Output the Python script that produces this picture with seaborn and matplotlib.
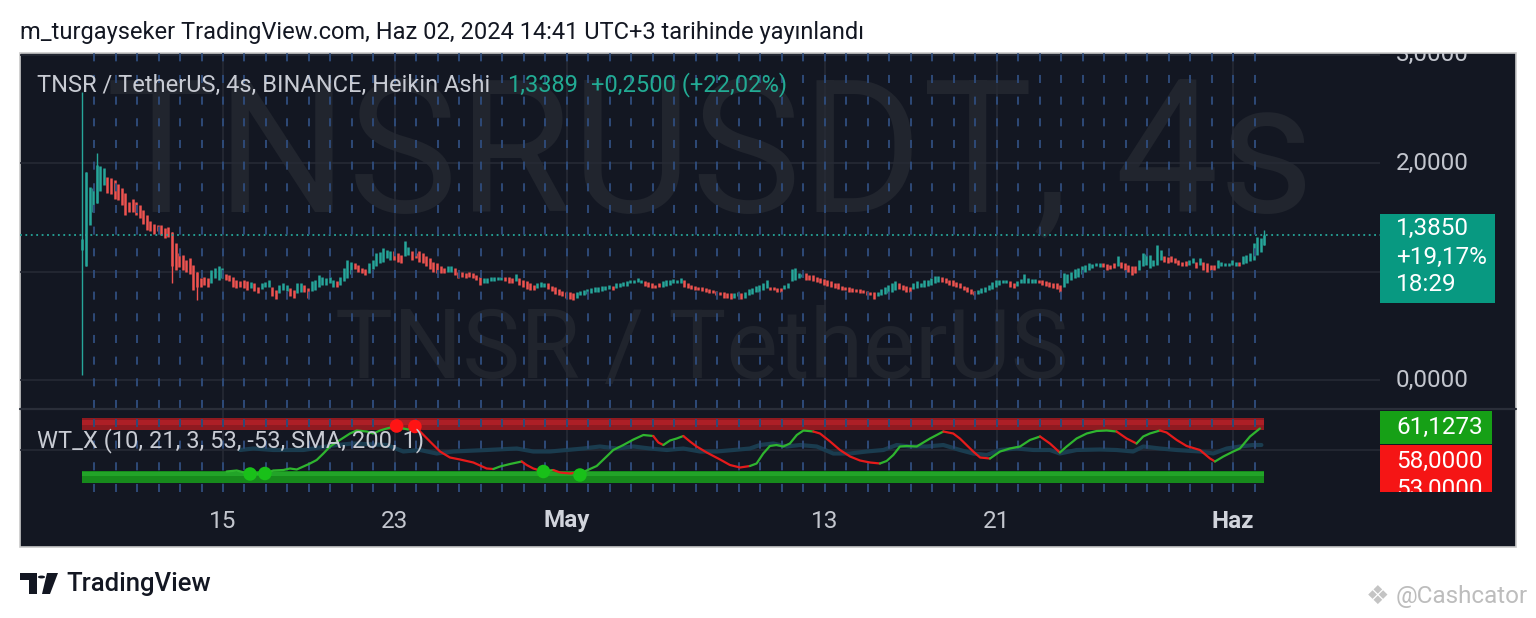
import numpy as np
import pandas as pd
import seaborn as sns
import matplotlib.pyplot as plt
import matplotlib.transforms as mtrans
from matplotlib.patches import Rectangle, Circle, Polygon
from matplotlib.lines import Line2D

# ---- data ----
# Heikin Ashi bodies, 4h candles from 2024-04-08 11:00 (UTC+3)
ha_open = [1.20, 1.05, 1.43, 1.55, 1.63, 1.74, 1.80, 1.87, 1.86, 1.84, 1.81, 1.77, 1.72, 1.64, 1.67, 1.64,
           1.61, 1.57, 1.52, 1.47, 1.44, 1.43, 1.43, 1.40, 1.41, 1.36, 1.26, 1.17, 1.15, 1.11, 1.12, 1.06,
           1.00, 0.94, 0.95, 0.94, 0.89, 0.94, 0.92, 0.94, 0.98, 0.97, 0.95, 0.92, 0.91, 0.92, 0.91, 0.85,
           0.89, 0.86, 0.84, 0.86, 0.86, 0.86, 0.83, 0.80, 0.83, 0.82, 0.85, 0.83, 0.80, 0.81, 0.88, 0.85,
           0.82, 0.83, 0.86, 0.88, 0.88, 0.89, 0.86, 0.91, 0.88, 0.91, 0.94, 0.98, 1.08, 1.06, 1.03, 1.02,
           0.99, 1.02, 1.05, 1.08, 1.09, 1.12, 1.11, 1.19, 1.17, 1.15, 1.14, 1.15, 1.19, 1.17, 1.19, 1.17,
           1.14, 1.12, 1.09, 1.08, 1.05, 1.03, 1.00, 1.00, 1.03, 1.00, 1.00, 0.99, 1.00, 0.99, 0.97, 0.95,
           0.89, 0.89, 0.91, 0.91, 0.92, 0.92, 0.95, 0.95, 0.94, 0.91, 0.94, 0.92, 0.91, 0.89, 0.88, 0.85,
           0.86, 0.86, 0.89, 0.87, 0.86, 0.84, 0.82, 0.81, 0.81, 0.80, 0.76, 0.78, 0.78, 0.79, 0.80, 0.81,
           0.81, 0.82, 0.83, 0.84, 0.87, 0.85, 0.86, 0.87, 0.87, 0.89, 0.89, 0.90, 0.89, 0.91, 0.90, 0.89,
           0.88, 0.89, 0.86, 0.87, 0.88, 0.89, 0.89, 0.89, 0.92, 0.89, 0.88, 0.87, 0.86, 0.86, 0.85, 0.84,
           0.83, 0.82, 0.81, 0.81, 0.80, 0.80, 0.76, 0.77, 0.80, 0.76, 0.78, 0.79, 0.81, 0.81, 0.83, 0.85,
           0.86, 0.86, 0.85, 0.85, 0.84, 0.85, 0.91, 0.92, 0.94, 0.95, 0.99, 0.97, 0.97, 0.95, 0.94, 0.93,
           0.92, 0.91, 0.89, 0.89, 0.87, 0.86, 0.86, 0.85, 0.84, 0.84, 0.83, 0.82, 0.81, 0.81, 0.77, 0.78,
           0.79, 0.80, 0.81, 0.83, 0.89, 0.88, 0.87, 0.86, 0.84, 0.85, 0.86, 0.86, 0.87, 0.88, 0.89, 0.90,
           0.95, 0.94, 0.92, 0.92, 0.90, 0.89, 0.87, 0.86, 0.84, 0.82, 0.79, 0.80, 0.81, 0.83, 0.84, 0.86,
           0.88, 0.89, 0.89, 0.91, 0.89, 0.87, 0.89, 0.89, 0.89, 0.89, 0.89, 0.92, 0.92, 0.91, 0.90, 0.89,
           0.89, 0.88, 0.86, 0.89, 0.92, 0.94, 0.95, 0.98, 1.00, 1.01, 1.03, 1.05, 1.04, 1.08, 1.07, 1.06,
           1.08, 1.05, 1.09, 1.08, 1.06, 1.05, 1.05, 1.01, 1.05, 1.06, 1.03, 1.05, 1.06, 1.11, 1.14, 1.13,
           1.14, 1.12, 1.11, 1.09, 1.10, 1.06, 1.08, 1.09, 1.06, 1.09, 1.08, 1.06, 1.06, 1.03, 1.05, 1.05,
           1.05, 1.06, 1.05, 1.09, 1.07, 1.08, 1.10, 1.11, 1.15, 1.18, 1.24]
ha_close = [1.30, 1.92, 1.78, 1.77, 1.98, 1.97, 1.95, 1.72, 1.71, 1.67, 1.66, 1.61, 1.52, 1.55, 1.55, 1.52,
            1.49, 1.44, 1.38, 1.37, 1.35, 1.37, 1.34, 1.31, 1.32, 1.05, 1.01, 1.04, 1.01, 1.00, 0.98, 0.83,
            0.86, 0.86, 0.88, 0.86, 1.01, 1.03, 1.05, 1.03, 0.92, 0.91, 0.86, 0.85, 0.86, 0.85, 0.83, 0.90,
            0.82, 0.80, 0.89, 0.90, 0.92, 0.77, 0.75, 0.88, 0.89, 0.88, 0.77, 0.76, 0.89, 0.89, 0.81, 0.76,
            0.91, 0.92, 0.97, 0.95, 0.94, 0.95, 0.92, 0.86, 0.95, 1.03, 1.11, 1.09, 1.02, 1.00, 0.99, 0.97,
            1.08, 1.11, 1.17, 1.18, 1.22, 1.20, 1.19, 1.11, 1.09, 1.08, 1.28, 1.23, 1.11, 1.12, 1.09, 1.08,
            1.05, 1.02, 1.00, 0.99, 0.99, 0.99, 1.05, 1.05, 0.97, 0.94, 0.95, 0.94, 0.95, 0.94, 0.92, 0.88,
            0.94, 0.94, 0.95, 0.95, 0.95, 0.95, 0.91, 0.89, 0.89, 0.98, 0.88, 0.86, 0.84, 0.83, 0.83, 0.89,
            0.90, 0.89, 0.84, 0.82, 0.79, 0.78, 0.77, 0.76, 0.75, 0.74, 0.81, 0.82, 0.83, 0.84, 0.85, 0.86,
            0.86, 0.87, 0.87, 0.88, 0.83, 0.89, 0.89, 0.90, 0.91, 0.92, 0.92, 0.94, 0.92, 0.87, 0.86, 0.85,
            0.85, 0.86, 0.91, 0.92, 0.92, 0.93, 0.92, 0.94, 0.86, 0.85, 0.84, 0.83, 0.83, 0.82, 0.81, 0.80,
            0.80, 0.78, 0.78, 0.76, 0.76, 0.75, 0.80, 0.81, 0.75, 0.81, 0.84, 0.85, 0.87, 0.88, 0.89, 0.92,
            0.83, 0.83, 0.81, 0.81, 0.88, 0.89, 1.02, 1.03, 0.99, 0.98, 0.92, 0.92, 0.91, 0.90, 0.89, 0.88,
            0.87, 0.86, 0.85, 0.84, 0.83, 0.83, 0.81, 0.81, 0.81, 0.80, 0.80, 0.78, 0.78, 0.75, 0.81, 0.84,
            0.86, 0.88, 0.89, 0.91, 0.84, 0.83, 0.81, 0.81, 0.89, 0.91, 0.89, 0.92, 0.92, 0.94, 0.96, 0.96,
            0.90, 0.89, 0.88, 0.87, 0.86, 0.85, 0.83, 0.81, 0.79, 0.78, 0.83, 0.85, 0.86, 0.88, 0.90, 0.92,
            0.92, 0.92, 0.92, 0.86, 0.85, 0.91, 0.93, 0.98, 0.94, 0.93, 0.93, 0.89, 0.88, 0.87, 0.86, 0.85,
            0.84, 0.81, 0.99, 0.98, 1.00, 1.02, 1.03, 1.05, 1.06, 1.08, 1.07, 1.08, 1.08, 1.04, 1.01, 1.02,
            1.03, 1.14, 1.03, 1.01, 1.00, 0.97, 0.99, 1.11, 1.17, 1.16, 1.15, 1.11, 1.24, 1.20, 1.09, 1.08,
            1.09, 1.08, 1.06, 1.05, 1.05, 1.11, 1.12, 1.03, 1.12, 1.01, 1.00, 1.01, 1.01, 1.11, 1.09, 1.08,
            1.08, 1.11, 1.09, 1.05, 1.14, 1.15, 1.17, 1.26, 1.32, 1.31, 1.3389]
# candles with visible wicks
wick_idx = [0, 1, 4, 25, 32, 330]
wick_hi = [2.65, 1.92, 2.09, 1.36, 1.00, 1.385]
wick_lo = [0.05, 1.05, 1.63, 0.89, 0.74, 1.24]
last_close = 1.3389

# WT_X oscillator, days after 2024-04-15 00:00
wt_day = [0.17, 0.64, 1.26, 1.95, 2.34, 2.81, 3.12, 3.43, 3.74, 4.05, 4.36, 4.67, 4.98, 5.44, 5.91, 6.22,
          6.69, 6.99, 7.31, 7.62, 8.08, 8.39, 8.62, 8.93, 9.17, 9.63, 10.10, 10.56, 11.03, 11.65, 12.27, 12.58,
          12.89, 13.36, 13.90, 14.13, 14.44, 14.91, 15.37, 15.68, 16.15, 16.53, 16.61, 16.92, 17.39, 17.85, 18.16, 18.63,
          19.10, 19.56, 20.02, 20.26, 20.49, 20.80, 21.11, 21.42, 21.73, 22.04, 22.51, 23.13, 23.59, 24.06, 24.52, 24.83,
          25.14, 25.45, 25.76, 26.07, 26.38, 26.70, 27.01, 27.47, 27.78, 28.25, 28.71, 29.18, 29.64, 30.11, 30.57, 30.88,
          31.19, 31.50, 31.81, 32.28, 32.59, 32.90, 33.21, 33.52, 33.98, 34.29, 34.60, 34.91, 35.23, 35.69, 36.16, 36.62,
          37.09, 37.55, 38.02, 38.48, 38.94, 39.26, 39.72, 40.19, 40.65, 41.12, 41.58, 42.05, 42.51, 42.82, 43.13, 43.60,
          43.91, 44.38, 44.84, 45.46, 45.93, 46.16, 46.55, 47.01, 47.32, 47.79, 48.25]
wt_val = [-43, -41, -48, -47, -41, -40, -37, -39, -33, -27, -20, -7, 7, 20, 33, 39,
          37, 33, 39, 43, 48, 43, 41, 47, 37, 17, -3, -15, -19, -25, -37, -38,
          -33, -28, -23, -30, -37, -43, -40, -45, -47, -45, -48, -41, -32, -13, 0, 10,
          21, 30, 28, 15, 10, 19, 23, 28, 17, 7, -5, -19, -30, -35, -32, -27,
          -7, 8, 10, 7, 13, 30, 39, 37, 33, 17, 0, -13, -21, -25, -27, -22,
          -10, 7, 8, 7, 15, 23, 30, 37, 33, 23, 10, -3, -15, -17, -3, 3,
          7, 20, 27, 13, -5, 7, 23, 33, 38, 39, 37, 23, 13, 27, 33, 39,
          35, 20, 8, 0, -17, -23, -13, -3, 3, 27, 43]
wt_col = list("gggggggggggggggggggggggg"
              "rrrrrrrr" "gggrrrgrrrr" "gggggggg" "rrgggrrrrrrr"
              "ggggggggg" "rrrrrrr" "ggggggggg" "rrrrrr" "ggggg" "rr"
              "gggggg" "rr" "ggg" "rrrrrr" "ggggg")
cross_down = [(8.08, 48), (8.93, 47)]
cross_up = [(1.26, -48), (1.95, -47), (14.91, -43), (16.61, -50)]
# dark teal companion line of the oscillator
sig_day = [0.79, 1.41, 2.34, 3.74, 5.29, 6.06, 7.62, 8.39, 9.17, 9.94, 10.72, 12.27, 13.67, 14.44, 15.22, 15.99,
           16.77, 17.54, 18.32, 19.10, 19.87, 20.65, 21.42, 22.20, 22.97, 23.75, 24.52, 24.99, 25.61, 26.23, 26.85, 27.63,
           28.40, 29.18, 29.95, 30.73, 31.35, 31.97, 32.75, 33.52, 34.29, 34.91, 35.54, 36.16, 36.93, 37.71, 38.48, 38.94,
           39.72, 40.80, 41.58, 42.35, 42.82, 43.60, 44.38, 45.46, 46.08, 46.71, 47.32, 47.93, 48.32]
sig_val = [0, 3, 0, 0, 10, 13, 10, -3, 0, -7, -3, 0, 3, -3, -3, 0,
           3, 7, 3, 7, 3, 0, 3, -3, -3, 0, 3, 10, 13, 7, 10, 7,
           -7, -7, -3, 0, 10, 7, 7, 10, 0, -7, -10, 0, 3, 0, 0, -7,
           0, 1, 0, -3, 7, 3, 0, -3, -7, 3, 7, 10, 10]
ob_level, os_level = 53, -53

price_ticks = [0.0, 1.0, 2.0, 3.0]
price_tick_labels = ["0,0000", "1,0000", "2,0000", "3,0000"]
time_ticks = ["2024-04-15", "2024-04-23", "2024-05-01", "2024-05-13", "2024-05-21", "2024-06-01"]
time_labels = ["15", "23", "May", "13", "21", "Haz"]
time_bold = [False, False, True, False, False, True]

# ---- style ----
sns.set_style("dark")
plt.rcParams['font.family'] = ['Roboto', 'DejaVu Sans']
plt.rcParams['lines.scale_dashes'] = False

BG = '#131722'
GRID = '#262a35'
TXT = '#c3c6ce'
UP, DN = '#26a69a', '#ef5350'
FS = 17

W, H = 1536, 618
fig = plt.figure(figsize=(W / 100, H / 100), dpi=100)
fig.patch.set_facecolor('white')


def box(x0, y0, x1, y1):
    return [x0 / W, 1 - y1 / H, (x1 - x0) / W, (y1 - y0) / H]


def fx(x):
    return x / W


def fy(y):
    return 1 - y / H


fig.add_artist(Rectangle((fx(20), fy(547)), 1496 / W, 494 / H, transform=fig.transFigure,
                         fc=BG, ec='#c9c9c9', lw=1.2, zorder=0))

ax = fig.add_axes(box(20, 53, 1380, 408))
axw = fig.add_axes(box(20, 408, 1380, 492), sharex=ax)
axs = fig.add_axes(box(1380, 53, 1516, 408))
axws = fig.add_axes(box(1380, 408, 1516, 492))
for a in (ax, axw, axs, axws):
    a.set_facecolor(BG)
    a.patch.set_alpha(0)
    for s in a.spines.values():
        s.set_visible(False)
    a.tick_params(left=False, bottom=False, labelleft=False, labelbottom=False)

t0 = pd.Timestamp('2024-04-15')
x_lo = t0 - pd.Timedelta(days=(223 - 20) / 21.49)
x_hi = t0 + pd.Timedelta(days=(1380 - 223) / 21.49)
p_top, p_bot = (380 - 53) / 108.5, (380 - 408) / 108.5
ax.set_xlim(x_lo, x_hi)
ax.set_ylim(p_bot, p_top)
axw.set_ylim(-84, 84)
axs.set_ylim(p_bot, p_top)
axs.set_xlim(0, 136)
axws.set_ylim(-84, 84)
axws.set_xlim(0, 136)

# watermarks
ax.text(fx(710), fy(212), 'TNSRUSDT, 4s', transform=fig.transFigure, ha='center', va='baseline',
        fontsize=133, fontweight='normal', color='#21252e', zorder=0, clip_on=True)
ax.text(fx(702), fy(378), 'TNSR / TetherUS', transform=fig.transFigure, ha='center', va='baseline',
        fontsize=70, color='#20242d', zorder=0, clip_on=True)

# grid
for p in price_ticks:
    ax.axhline(p, color=GRID, lw=1.2, zorder=1)
axw.axhline(0, color=GRID, lw=1.2, zorder=1)
for t in time_ticks:
    ax.axvline(pd.Timestamp(t), color=GRID, lw=1.2, zorder=1)
    axw.axvline(pd.Timestamp(t), color=GRID, lw=1.2, zorder=1)
day_lines = pd.date_range('2024-04-09', '2024-06-02', freq='D')
for d in day_lines:
    ax.axvline(d, color='#2e4a78', lw=1.4, ls=(0, (5.8, 9.8)), zorder=4)
    axw.axvline(d, color='#2e4a78', lw=1.4, ls=(0, (5.8, 9.8)), zorder=4)

# candles
candle_t = pd.date_range('2024-04-08 11:00', periods=len(ha_open), freq='4h')
o = np.array(ha_open)
c = np.array(ha_close)
up = c >= o
cols = np.where(up, UP, DN)
ax.vlines(candle_t[wick_idx], wick_lo, wick_hi, colors=[cols[i] for i in wick_idx], lw=1.0, zorder=3)
ax.vlines(candle_t, np.minimum(o, c), np.maximum(o, c), colors=cols, lw=1.8, zorder=3)
ax.axhline(last_close, color=UP, lw=1.3, ls=(0, (1.3, 2.6)), zorder=3)

# oscillator bands
axw.fill_between(candle_t, ob_level - 12, ob_level + 12, color='#8f1a20', lw=0, zorder=2)
axw.fill_between(candle_t, ob_level - 2, ob_level + 8, color='#ad1f26', lw=0, zorder=2)
axw.fill_between(candle_t, os_level - 12, os_level + 12, color='#178a1c', lw=0, zorder=2)
axw.fill_between(candle_t, os_level + 2, os_level + 10, color='#22a428', lw=0, zorder=2)

sig_t = t0 + pd.to_timedelta(sig_day, unit='D')
sns.lineplot(x=sig_t, y=sig_val, color='#1a3c4f', lw=3.0, ax=axw, zorder=3)

# WT line split into coloured runs
wt_t = t0 + pd.to_timedelta(wt_day, unit='D')
rows = []
run = 0
for i in range(1, len(wt_val)):
    if i > 1 and wt_col[i] != wt_col[i - 1]:
        run += 1
    for j in (i - 1, i):
        rows.append({'t': wt_t[j], 'v': wt_val[j], 'run': run, 'col': wt_col[i]})
wdf = pd.DataFrame(rows)
pal = {r: ('#2fb52f' if g.iloc[0] == 'g' else '#e61b1b') for r, g in wdf.groupby('run')['col']}
sns.lineplot(data=wdf, x='t', y='v', hue='run', palette=pal, estimator=None, sort=False,
             legend=False, lw=1.6, ax=axw, zorder=5)
cd = pd.DataFrame(cross_down, columns=['d', 'v'])
cu = pd.DataFrame(cross_up, columns=['d', 'v'])
sns.scatterplot(x=t0 + pd.to_timedelta(cd['d'], unit='D'), y=cd['v'], color='#ff1414', s=95,
                edgecolor='none', ax=axw, zorder=6)
sns.scatterplot(x=t0 + pd.to_timedelta(cu['d'], unit='D'), y=cu['v'], color='#19c019', s=95,
                edgecolor='none', ax=axw, zorder=6)
for a in (ax, axw):
    a.set_xlabel('')
    a.set_ylabel('')
    a.set_xlim(x_lo, x_hi)

# price scale
for p, lab in zip(price_ticks, price_tick_labels):
    if p == 1.0:
        continue
    axs.text(16, p, lab, ha='left', va='center', fontsize=17.5, color=TXT, clip_on=True)
axs.add_patch(Rectangle((0, last_close - 0.63), 115, 0.82, fc='#089981', ec='none'))
for dy, lab in zip([0.06, -0.205, -0.463], ['1,3850', '+19,17%', '18:29']):
    axs.text(16, last_close + dy, lab, ha='left', va='center', fontsize=17.5, color='white')
axws.add_patch(Rectangle((0, 12), 112, 66, fc='#16a016', ec='none'))
axws.add_patch(Rectangle((0, -100), 112, 110, fc='#f51515', ec='none'))
axws.text(16, 46, '61,1273', ha='left', va='center', fontsize=17.5, color='white')
axws.text(16, -22, '58,0000', ha='left', va='center', fontsize=17.5, color='white')
axws.text(16, -78, '53,0000', ha='left', va='center', fontsize=17.5, color='white', clip_on=True)

# pane separator
fig.add_artist(Line2D([fx(20), fx(1516)], [fy(408.5), fy(408.5)], transform=fig.transFigure,
                      color='#2a2e39', lw=1.6))

# time axis labels
tr = mtrans.blended_transform_factory(axw.transData, fig.transFigure)
for t, lab, b in zip(time_ticks, time_labels, time_bold):
    axw.text(pd.Timestamp(t), fy(521), lab, transform=tr, ha='center', va='center', fontsize=17.5,
             color='#d1d4dc' if b else TXT, fontweight='bold' if b else 'normal', clip_on=False)

# legends
fig.text(fx(37), fy(85), 'TNSR / TetherUS, 4s, BINANCE, Heikin Ashi', fontsize=FS, color='#c8cbd3',
         va='center')
fig.text(fx(507), fy(85), '1,3389', fontsize=FS, color='#22ab94', va='center')
fig.text(fx(591), fy(85), '+0,2500 (+22,02%)', fontsize=FS, color='#22ab94', va='center')
fig.text(fx(37), fy(441), 'WT_X (10, 21, 3, 53, -53, SMA, 200, 1)', fontsize=FS, color='#c8cbd3',
         va='center')

# header / footer
fig.text(fx(20), fy(32), 'm_turgayseker TradingView.com, Haz 02, 2024 14:41 UTC+3 tarihinde yayınlandı',
         fontsize=17, color='#131722', va='center')
fig.text(fx(66), fy(584), 'TradingView', fontsize=18.5, color='#131722', va='center', fontweight='medium')
logo = [Polygon([(fx(20), fy(573)), (fx(37), fy(573)), (fx(37), fy(594)), (fx(29), fy(594)),
                 (fx(29), fy(580)), (fx(20), fy(580))], closed=True),
        Circle((fx(41.5), fy(577)), 3.6 / W),
        Polygon([(fx(47), fy(573)), (fx(58), fy(573)), (fx(50), fy(594)), (fx(42), fy(594))], closed=True)]
for pch in logo:
    pch.set_transform(fig.transFigure)
    pch.set_facecolor('#131722')
    pch.set_edgecolor('none')
    fig.add_artist(pch)
fig.text(fx(1528), fy(597), '@Cashcator', fontsize=17.5, color='#bdbdbd', va='center', ha='right')
fig.text(fx(1378), fy(597), '\u2756', fontsize=19, color='#c4c4c4', va='center', ha='center',
         family='DejaVu Sans')

fig.savefig('out.png', dpi=100, facecolor='white')
